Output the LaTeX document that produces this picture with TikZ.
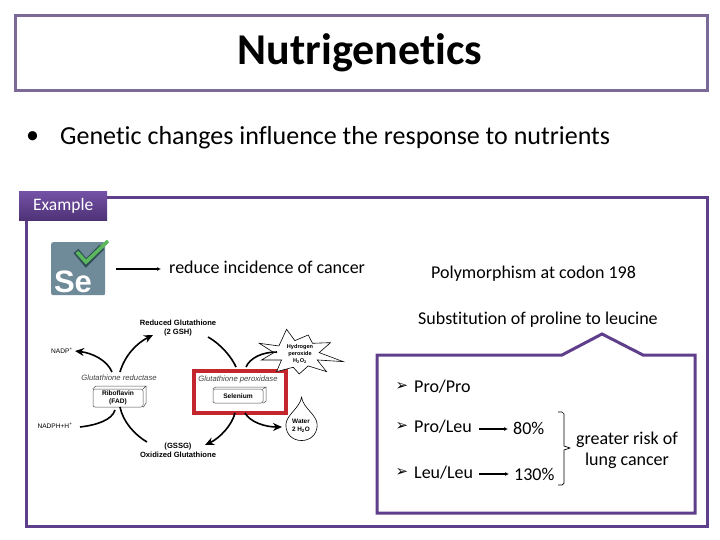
\documentclass[tikz,border=0pt]{standalone}
\usepackage{fontspec}
\setmainfont[Ligatures=NoCommon]{Carlito}
\newfontfamily\helv{Liberation Sans}
\newfontfamily\symb{DejaVu Sans}
\usetikzlibrary{arrows.meta}
\definecolor{framegrey}{HTML}{7B6A98}
\definecolor{boxpurple}{HTML}{5F3F8C}
\definecolor{tabtop}{HTML}{7452A6}
\definecolor{tabbottom}{HTML}{4E3276}
\definecolor{seslate}{HTML}{6F8A99}
\definecolor{segreen}{HTML}{5CB85C}
\definecolor{sedark}{HTML}{2F4F55}
\definecolor{redbox}{HTML}{C4262E}
\tikzset{
  x=1pt,y=-1pt,
  lbl/.style={inner sep=0pt,font=\fontsize{18}{20}\selectfont},
  tiny/.style={inner sep=0pt,align=center,font=\helv\fontsize{7.6}{9}\selectfont\bfseries},
  tinyit/.style={inner sep=0pt,font=\helv\fontsize{7.7}{9}\selectfont\itshape,text=black!75},
  slab/.style={draw=black!70,fill=white,rounded corners=2pt,line width=.5pt,inner sep=0pt,align=center,font=\helv\fontsize{6.6}{8.5}\selectfont\bfseries},
  starlbl/.style={inner sep=0pt,align=center,font=\helv\fontsize{5.6}{7}\selectfont\bfseries},
  thin arrow/.style={line width=1.3pt,-{Latex[length=4pt,width=4pt]}},
  cycle arrow/.style={line width=1.6pt,-{Stealth[length=9pt,width=8pt]}},
  cycle line/.style={line width=1.6pt},
  tick/.style={inner sep=0pt,font=\symb\fontsize{15}{17}\selectfont},
}
\begin{document}
\begin{tikzpicture}
  \useasboundingbox (0,0) rectangle (720,540);
  % frames
  \node[draw=framegrey,line width=3pt,minimum width=692pt,minimum height=75pt,anchor=north west,inner sep=0pt] (titlebox) at (14,14) {};
  \node[draw=boxpurple,line width=3pt,minimum width=681pt,minimum height=329pt,anchor=north west,inner sep=0pt] (mainbox) at (25,196) {};
  \node[top color=tabtop,bottom color=tabbottom,minimum width=88pt,minimum height=29pt,anchor=north west,inner sep=0pt,text=white,font=\fontsize{17.5}{20}\selectfont] (example) at (19,191) {\raisebox{-1pt}{Example}};
  % texts
  \node[inner sep=0pt,font=\fontsize{44}{50}\selectfont\bfseries] (title) at (360,53) {Nutrigenetics};
  \node[inner sep=0pt,anchor=west,font=\fontsize{26}{30}\selectfont] (bullet) at (26,138) {•};
  \node[inner sep=0pt,anchor=west,font=\fontsize{26}{30}\selectfont] (genetic) at (60,138) {Genetic changes influence the response to nutrients};
  % selenium icon
  \node[fill=seslate,rounded corners=2pt,minimum width=54pt,minimum height=53pt,anchor=north west,inner sep=0pt] (seicon) at (51,242) {};
  \draw[sedark,line width=6.5pt] (76,251) -- (86,263) -- (102,247);
  \draw[segreen,line width=3.5pt] (77,252) -- (86,262) -- (108,241);
  \node[inner sep=0pt,text=white,font=\helv\fontsize{31}{33}\selectfont\bfseries] (se) at (73,282) {Se};
  \node[lbl,anchor=west] (reduce) at (169,267) {reduce incidence of cancer};
  \draw[thin arrow] (116,269) -- ([xshift=-8pt]reduce.west |- 0,269);
  \node[lbl,anchor=west] (codon) at (431,274) {Polymorphism at codon 198};
  \node[lbl,anchor=west] (subst) at (418,319.5) {Substitution of proline to leucine};
  % callout
  \draw[boxpurple,line width=3pt] (377,355) -- (562,355) -- (602,334) -- (643,355) -- (695,355) -- (695,513) -- (377,513) -- cycle;
  % pathway
  \node[tiny] (gsh) at (178,328) {Reduced Glutathione\\(2 GSH)};
  \node[tiny] (gssg) at (178,450) {(GSSG)\\Oxidized Glutathione};
  \node[tiny,font=\helv\fontsize{6.6}{8}\selectfont] (nadp) at (62,351) {NADP\textsuperscript{+}};
  \node[tiny,font=\helv\fontsize{6.6}{8}\selectfont] (nadph) at (55,426) {NADPH+H\textsuperscript{+}};
  \node[tinyit] (reductase) at (119,378) {Glutathione reductase};
  \node[slab,minimum width=50pt,minimum height=18pt] (ribo) at (118,398) {Riboflavin\\(FAD)};
  \draw[black!70,line width=.5pt] (ribo.north west) -- (96,386) -- (146,386) -- (ribo.north east) (146,386) -- (146,403) -- (ribo.south east);
  \node[draw=redbox,line width=3.5pt,minimum width=92pt,minimum height=42pt,anchor=north west,inner sep=0pt] (redframe) at (192,369) {};
  \node[tinyit] (peroxidase) at (238,380) {Glutathione peroxidase};
  \node[slab,minimum width=50pt,minimum height=14pt] (selen) at (238,396) {Selenium};
  \draw[black!70,line width=.5pt] (selen.north west) -- (216,387) -- (266,387) -- (selen.north east) (266,387) -- (266,401) -- (selen.south east);
  % star and drop
  \begin{scope}[shift={(180,310)},x=0.333pt,y=-0.333pt]
    \draw[line width=.6pt,fill=white] (238,100) -- (297,108) -- (320,58) -- (345,92) -- (385,75) -- (398,100) -- (452,98) -- (418,128) -- (490,155) -- (412,150) -- (440,185) -- (385,168) -- (358,192) -- (340,172) -- (290,185) -- (305,150) -- (245,150) -- (282,128) -- cycle;
    \draw[line width=.6pt,fill=white] (365,262) .. controls (360,295) and (318,315) .. (318,345) .. controls (318,375) and (340,392) .. (365,392) .. controls (390,392) and (412,375) .. (412,345) .. controls (412,315) and (370,295) .. (365,262) -- cycle;
  \end{scope}
  \node[starlbl] (h2o2) at (300,354) {Hydrogen\\peroxide\\H\textsubscript{2}O\textsubscript{2}};
  \node[starlbl,font=\helv\fontsize{6.4}{8}\selectfont\bfseries] (water) at (301,426) {Water\\2 H\textsubscript{2}O};
  % cycle arrows
  \coordinate (a1) at (120,372);
  \coordinate (a2) at (112,372);
  \coordinate (a3) at (115,410);
  \coordinate (a4) at (120,407);
  \coordinate (a5) at (153,335);
  \coordinate (a6) at (75,351);
  \coordinate (a7) at (80,427);
  \coordinate (a8) at (147,442);
  \draw[cycle arrow] (a1) .. controls (125,355) and (137,343) .. (a5);
  \draw[cycle arrow] (a2) .. controls (107,360) and (92,353) .. (a6);
  \draw[cycle line] (a3) .. controls (112,420) and (97,425) .. (a7);
  \draw[cycle line] (a4) .. controls (123,422) and (135,435) .. (a8);
  \coordinate (b1) at (208,337);
  \coordinate (b2) at (236,367);
  \coordinate (b3) at (277,352);
  \coordinate (b4) at (246,367);
  \coordinate (b5) at (235,413);
  \coordinate (b6) at (205,445);
  \coordinate (b7) at (245,413);
  \coordinate (b8) at (282,427);
  \draw[cycle line] (b1) .. controls (222,345) and (232,358) .. (b2);
  \draw[cycle line] (b3) .. controls (262,352) and (250,358) .. (b4);
  \draw[cycle arrow] (b5) .. controls (232,425) and (220,438) .. (b6);
  \draw[cycle arrow] (b7) .. controls (250,422) and (265,427) .. (b8);
  % genotypes
  \node[lbl,anchor=west] (propro) at (414,387) {Pro/Pro};
  \node[lbl,anchor=west] (proleu) at (414,427) {Pro/Leu};
  \node[lbl,anchor=west] (leuleu) at (414,473) {Leu/Leu};
  \node[tick] (b1a) at (402,386) {➢};
  \node[tick] (b2a) at (402,426) {➢};
  \node[tick] (b3a) at (402,472) {➢};
  \node[lbl,anchor=west] (pct80) at (513,428) {80\%};
  \node[lbl,anchor=west] (pct130) at (514,474) {130\%};
  \draw[thin arrow] (479,429) -- ([xshift=-5pt]pct80.west |- 0,429);
  \draw[thin arrow] (479,474) -- ([xshift=-5pt]pct130.west |- 0,474);
  \draw[line width=.7pt] (558,412) -- (562,412) -- (564,414) -- (564,446) -- (570,448) -- (564,450) -- (564,483) -- (562,485) -- (558,485);
  \node[lbl,align=center,font=\fontsize{18}{21}\selectfont] (risk) at (627,450) {greater risk of\\lung cancer};
\end{tikzpicture}
\end{document}
